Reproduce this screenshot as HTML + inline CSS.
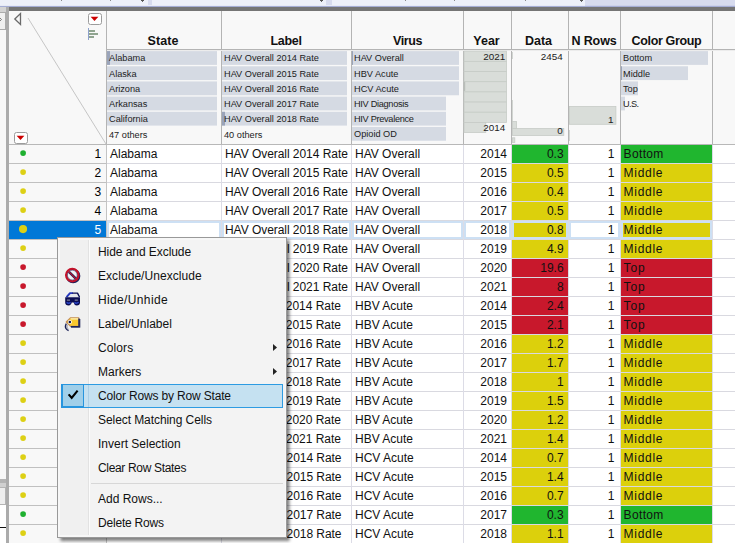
<!DOCTYPE html>
<html><head><meta charset="utf-8"><title>Data table</title>
<style>
html,body{margin:0;padding:0;}
body{width:735px;height:543px;overflow:hidden;position:relative;background:#fff;font-family:"Liberation Sans",sans-serif;font-size:12px;color:#111;}
div,span{position:absolute;box-sizing:border-box;white-space:nowrap;}
svg{position:absolute;overflow:visible;}
.c{height:19px;line-height:19px;font-size:12px;}
.r{text-align:right;}
.hl{font-size:9.2px;height:14px;line-height:14px;color:#1c1c1c;}
.hd{font-weight:bold;font-size:12.5px;height:16px;line-height:16px;text-align:center;}
.mi{left:40px;height:24px;line-height:24px;font-size:12px;color:#111;}
</style></head><body>

<div style="left:0;top:0;width:735px;height:6px;background:#e7eaf6"></div>
<div style="left:0;top:0;width:735px;height:5px;background:#edf0f9"></div>
<div style="left:148px;top:0;width:4px;height:5px;background:#d7dbee"></div>
<div style="left:326px;top:0;width:6px;height:5px;background:#d7dbee"></div>
<div style="left:585px;top:0;width:150px;height:5px;background:#d7dbee"></div>
<div style="left:585px;top:5px;width:150px;height:1px;background:#cdd2ea"></div>
<div style="left:141px;top:0;width:3px;height:1px;background:#555"></div>
<div style="left:142px;top:1px;width:1px;height:1px;background:#666"></div>
<div style="left:320px;top:0;width:3px;height:1px;background:#555"></div>
<div style="left:321px;top:1px;width:1px;height:1px;background:#666"></div>
<div style="left:580px;top:0;width:3px;height:1px;background:#555"></div>
<div style="left:581px;top:1px;width:1px;height:1px;background:#666"></div>
<div style="left:61px;top:0;width:1px;height:1px;background:#8a8a8a"></div>
<div style="left:110px;top:0;width:1px;height:1px;background:#8a8a8a"></div>
<div style="left:405px;top:0;width:1px;height:1px;background:#8a8a8a"></div>
<div style="left:454px;top:0;width:1px;height:1px;background:#8a8a8a"></div>
<div style="left:525px;top:0;width:1px;height:1px;background:#8a8a8a"></div>
<div style="left:0;top:6px;width:735px;height:1px;background:#a5add4"></div>
<div style="left:9px;top:7px;width:726px;height:4px;background:#757575"></div>
<div style="left:0;top:7px;width:6px;height:536px;background:#f7f7f7"></div>
<div style="left:0;top:7px;width:6px;height:5px;background:#d3d3d3"></div>
<div style="left:-3px;top:12px;width:9px;height:18px;background:#f0f0f0;border:1px solid #ababab"></div>
<div style="left:-5px;top:15.5px;width:7px;height:7px;border:1.4px solid #555;transform:rotate(45deg) scale(.7)"></div>
<div style="left:0;top:479px;width:6px;height:4px;background:#b4b4b4"></div>
<div style="left:0;top:483px;width:6px;height:4px;background:#d0d0d0"></div>
<div style="left:-3px;top:487px;width:9px;height:18px;background:#eeeeee;border:1px solid #b4b4b4"></div>
<div style="left:0;top:505px;width:6px;height:38px;background:#fff"></div>
<div style="left:0;top:527px;width:6px;height:1px;background:#111"></div>
<div style="left:6px;top:7px;width:3px;height:536px;background:#ababab"></div>
<div style="left:9px;top:11px;width:726px;height:133px;background:#f8f8f8"></div>
<div style="left:9px;top:145px;width:97px;height:399px;background:#f8f8f8"></div>
<div style="left:106px;top:11px;width:1px;height:133px;background:#b4b4b4"></div>
<div style="left:221px;top:11px;width:1px;height:133px;background:#b4b4b4"></div>
<div style="left:351px;top:11px;width:1px;height:133px;background:#b4b4b4"></div>
<div style="left:463px;top:11px;width:1px;height:133px;background:#b4b4b4"></div>
<div style="left:511px;top:11px;width:1px;height:133px;background:#b4b4b4"></div>
<div style="left:568px;top:11px;width:1px;height:133px;background:#b4b4b4"></div>
<div style="left:620px;top:11px;width:1px;height:133px;background:#b4b4b4"></div>
<div style="left:712px;top:11px;width:1px;height:133px;background:#b4b4b4"></div>
<div style="left:106px;top:49px;width:629px;height:1px;background:#b4b4b4"></div>
<div style="left:107px;top:50px;width:629px;height:1px;background:#ececec"></div>
<div style="left:9px;top:144px;width:726px;height:1px;background:#b8b8b8"></div>
<svg style="left:0;top:0" width="735" height="146" viewBox="0 0 735 146"><line x1="28" y1="18" x2="106" y2="144" stroke="#c6c6c6" stroke-width="1"/><path d="M20.5 13.5 L20.5 24.5 L14.8 19 Z" fill="none" stroke="#6a6a6a" stroke-width="1.3"/><rect x="88.5" y="13.5" width="13" height="11" rx="2" fill="#fff" stroke="#9c9c9c"/><path d="M90.6 16.8 L98.4 16.8 L94.5 21 Z" fill="#cc0000"/><rect x="14.5" y="132.5" width="13" height="11" rx="2" fill="#fff" stroke="#9c9c9c"/><path d="M16.6 135.8 L24.4 135.8 L20.5 140 Z" fill="#cc0000"/><rect x="88" y="28" width="1" height="12" fill="#8ea2cc"/><rect x="89" y="30" width="6" height="2" fill="#90a590"/><rect x="89" y="33" width="9" height="2" fill="#90a590"/><rect x="89" y="36" width="5" height="2" fill="#90a590"/><rect x="107" y="51.10" width="110" height="13.8" fill="#d5dae3"/><rect x="107" y="51.10" width="3" height="13.8" fill="#9aa4ba"/><rect x="107" y="66.27" width="110" height="13.8" fill="#d5dae3"/><rect x="107" y="81.44" width="110" height="13.8" fill="#d5dae3"/><rect x="107" y="96.61" width="110" height="13.8" fill="#d5dae3"/><rect x="107" y="111.78" width="110" height="13.8" fill="#d5dae3"/><rect x="222" y="51.10" width="125" height="13.8" fill="#d5dae3"/><rect x="222" y="66.27" width="125" height="13.8" fill="#d5dae3"/><rect x="222" y="81.44" width="125" height="13.8" fill="#d5dae3"/><rect x="222" y="96.61" width="125" height="13.8" fill="#d5dae3"/><rect x="222" y="111.78" width="125" height="13.8" fill="#d5dae3"/><rect x="222" y="111.78" width="3" height="13.8" fill="#9aa4ba"/><rect x="352" y="51.10" width="107" height="13.8" fill="#d5dae3"/><rect x="352" y="51.10" width="1" height="13.8" fill="#9aa4ba"/><rect x="352" y="66.27" width="107" height="13.8" fill="#d5dae3"/><rect x="352" y="81.44" width="107" height="13.8" fill="#d5dae3"/><rect x="352" y="96.61" width="94" height="13.8" fill="#d5dae3"/><rect x="352" y="111.78" width="94" height="13.8" fill="#d5dae3"/><rect x="352" y="126.95" width="94" height="13.8" fill="#d5dae3"/><rect x="621" y="51.10" width="87" height="13.8" fill="#d5dae3"/><rect x="621" y="66.27" width="67" height="13.8" fill="#d5dae3"/><rect x="621" y="66.27" width="1" height="13.8" fill="#9aa4ba"/><rect x="621" y="81.44" width="17" height="13.8" fill="#d5dae3"/><rect x="621" y="96.61" width="4" height="13.8" fill="#d5dae3"/><rect x="464" y="51.20" width="42.4" height="10.17" fill="#d9ddd9" stroke="#c6cbc6" stroke-width="0.8"/><rect x="464" y="61.37" width="42.4" height="10.17" fill="#d9ddd9" stroke="#c6cbc6" stroke-width="0.8"/><rect x="464" y="71.54" width="42.4" height="10.17" fill="#d9ddd9" stroke="#c6cbc6" stroke-width="0.8"/><rect x="464" y="81.71" width="42.4" height="10.17" fill="#d9ddd9" stroke="#c6cbc6" stroke-width="0.8"/><rect x="464" y="91.88" width="42.4" height="10.17" fill="#d9ddd9" stroke="#c6cbc6" stroke-width="0.8"/><rect x="464" y="102.05" width="42.4" height="10.17" fill="#d9ddd9" stroke="#c6cbc6" stroke-width="0.8"/><rect x="464" y="112.22" width="42.4" height="10.17" fill="#d9ddd9" stroke="#c6cbc6" stroke-width="0.8"/><rect x="464" y="122.39" width="21.8" height="10.17" fill="#d9ddd9" stroke="#c6cbc6" stroke-width="0.8"/><rect x="464" y="81.7" width="1.2" height="9.2" fill="#b9beb9"/><rect x="512.4" y="121.5" width="4" height="7" fill="#d9ddd9" stroke="#c6cbc6" stroke-width="0.8"/><rect x="512.4" y="128.5" width="51.4" height="7" fill="#d9ddd9" stroke="#c6cbc6" stroke-width="0.8"/><rect x="512.4" y="137.8" width="2.4" height="4.6" fill="#d9ddd9" stroke="#c6cbc6" stroke-width="0.8"/><rect x="512" y="52" width="1" height="7" fill="#d2d6d2"/><rect x="512" y="100" width="1" height="21" fill="#d2d6d2"/><rect x="569.6" y="106.5" width="46.3" height="17.8" fill="#d9ddd9" stroke="#c6cbc6" stroke-width="0.8"/><rect x="569" y="130" width="1" height="11" fill="#d2d6d2"/></svg>
<div class="hd" style="left:106px;top:33px;width:114px;letter-spacing:0.1px">State</div>
<div class="hd" style="left:221.5px;top:33px;width:129px;letter-spacing:-0.3px">Label</div>
<div class="hd" style="left:352px;top:33px;width:111px;letter-spacing:-0.4px">Virus</div>
<div class="hd" style="left:463px;top:33px;width:47px;letter-spacing:0px">Year</div>
<div class="hd" style="left:510.5px;top:33px;width:56px;letter-spacing:0px">Data</div>
<div class="hd" style="left:568.5px;top:33px;width:51px;letter-spacing:-0.1px">N Rows</div>
<div class="hd" style="left:621px;top:33px;width:91px;letter-spacing:-0.35px">Color Group</div>
<div class="hl" style="left:109px;top:51.3px">Alabama</div>
<div class="hl" style="left:109px;top:66.5px">Alaska</div>
<div class="hl" style="left:109px;top:81.6px">Arizona</div>
<div class="hl" style="left:109px;top:96.8px">Arkansas</div>
<div class="hl" style="left:109px;top:112.0px">California</div>
<div class="hl" style="left:109px;top:127.8px">47 others</div>
<div class="hl" style="left:224px;top:51.3px">HAV Overall 2014 Rate</div>
<div class="hl" style="left:224px;top:66.5px">HAV Overall 2015 Rate</div>
<div class="hl" style="left:224px;top:81.6px">HAV Overall 2016 Rate</div>
<div class="hl" style="left:224px;top:96.8px">HAV Overall 2017 Rate</div>
<div class="hl" style="left:224px;top:112.0px">HAV Overall 2018 Rate</div>
<div class="hl" style="left:224px;top:127.8px">40 others</div>
<div class="hl" style="left:354px;top:51.3px">HAV Overall</div>
<div class="hl" style="left:354px;top:66.5px">HBV Acute</div>
<div class="hl" style="left:354px;top:81.6px">HCV Acute</div>
<div class="hl" style="left:354px;top:96.8px;letter-spacing:-0.3px">HIV Diagnosis</div>
<div class="hl" style="left:354px;top:112.0px;letter-spacing:-0.3px">HIV Prevalence</div>
<div class="hl" style="left:354px;top:127.1px">Opioid OD</div>
<div class="hl" style="left:623px;top:51.3px">Bottom</div>
<div class="hl" style="left:623px;top:66.5px">Middle</div>
<div class="hl" style="left:623px;top:81.6px">Top</div>
<div class="hl" style="left:623px;top:96.8px;letter-spacing:-0.6px">U.S.</div>
<div class="hl r" style="left:464px;top:50px;width:41.2px;font-size:9.9px">2021</div>
<div class="hl r" style="left:464px;top:120.7px;width:41.2px;font-size:9.9px">2014</div>
<div class="hl r" style="left:512px;top:50px;width:50.7px;font-size:9.9px">2454</div>
<div class="hl r" style="left:512px;top:123.8px;width:50.7px;font-size:9.9px">0</div>
<div class="hl r" style="left:570px;top:112.8px;width:43.6px;font-size:9.9px">1</div>
<div style="left:512px;top:145px;width:56px;height:18px;background:#20b62f"></div>
<div style="left:621px;top:145px;width:91px;height:18px;background:#20b62f"></div>
<div class="c r" style="left:40px;top:145px;width:61.3px;color:#000">1</div>
<div class="c" style="left:110px;top:145px">Alabama</div>
<div class="c" style="left:225px;top:145px;letter-spacing:-0.05px">HAV Overall 2014 Rate</div>
<div class="c" style="left:355px;top:145px">HAV Overall</div>
<div class="c r" style="left:464px;top:145px;width:43px">2014</div>
<div class="c r" style="left:512px;top:145px;width:51.6px">0.3</div>
<div class="c r" style="left:570px;top:145px;width:44.5px">1</div>
<div class="c" style="left:623.6px;top:145px;letter-spacing:0.35px">Bottom</div>
<div style="left:512px;top:164px;width:56px;height:18px;background:#dcd00c"></div>
<div style="left:621px;top:164px;width:91px;height:18px;background:#dcd00c"></div>
<div class="c r" style="left:40px;top:164px;width:61.3px;color:#000">2</div>
<div class="c" style="left:110px;top:164px">Alabama</div>
<div class="c" style="left:225px;top:164px;letter-spacing:-0.05px">HAV Overall 2015 Rate</div>
<div class="c" style="left:355px;top:164px">HAV Overall</div>
<div class="c r" style="left:464px;top:164px;width:43px">2015</div>
<div class="c r" style="left:512px;top:164px;width:51.6px">0.5</div>
<div class="c r" style="left:570px;top:164px;width:44.5px">1</div>
<div class="c" style="left:623.6px;top:164px;letter-spacing:0.7px">Middle</div>
<div style="left:512px;top:183px;width:56px;height:18px;background:#dcd00c"></div>
<div style="left:621px;top:183px;width:91px;height:18px;background:#dcd00c"></div>
<div class="c r" style="left:40px;top:183px;width:61.3px;color:#000">3</div>
<div class="c" style="left:110px;top:183px">Alabama</div>
<div class="c" style="left:225px;top:183px;letter-spacing:-0.05px">HAV Overall 2016 Rate</div>
<div class="c" style="left:355px;top:183px">HAV Overall</div>
<div class="c r" style="left:464px;top:183px;width:43px">2016</div>
<div class="c r" style="left:512px;top:183px;width:51.6px">0.4</div>
<div class="c r" style="left:570px;top:183px;width:44.5px">1</div>
<div class="c" style="left:623.6px;top:183px;letter-spacing:0.7px">Middle</div>
<div style="left:512px;top:202px;width:56px;height:18px;background:#dcd00c"></div>
<div style="left:621px;top:202px;width:91px;height:18px;background:#dcd00c"></div>
<div class="c r" style="left:40px;top:202px;width:61.3px;color:#000">4</div>
<div class="c" style="left:110px;top:202px">Alabama</div>
<div class="c" style="left:225px;top:202px;letter-spacing:-0.05px">HAV Overall 2017 Rate</div>
<div class="c" style="left:355px;top:202px">HAV Overall</div>
<div class="c r" style="left:464px;top:202px;width:43px">2017</div>
<div class="c r" style="left:512px;top:202px;width:51.6px">0.5</div>
<div class="c r" style="left:570px;top:202px;width:44.5px">1</div>
<div class="c" style="left:623.6px;top:202px;letter-spacing:0.7px">Middle</div>
<div style="left:512px;top:221px;width:56px;height:18px;background:#dcd00c"></div>
<div style="left:621px;top:221px;width:91px;height:18px;background:#dcd00c"></div>
<div style="left:9px;top:221px;width:97px;height:18px;background:#0078d7"></div>
<div class="c r" style="left:40px;top:221px;width:61.3px;color:#fff">5</div>
<div class="c" style="left:110px;top:221px">Alabama</div>
<div class="c" style="left:225px;top:221px;letter-spacing:-0.05px">HAV Overall 2018 Rate</div>
<div class="c" style="left:355px;top:221px">HAV Overall</div>
<div class="c r" style="left:464px;top:221px;width:43px">2018</div>
<div class="c r" style="left:512px;top:221px;width:51.6px">0.8</div>
<div class="c r" style="left:570px;top:221px;width:44.5px">1</div>
<div class="c" style="left:623.6px;top:221px;letter-spacing:0.7px">Middle</div>
<div style="left:512px;top:240px;width:56px;height:18px;background:#dcd00c"></div>
<div style="left:621px;top:240px;width:91px;height:18px;background:#dcd00c"></div>
<div class="c r" style="left:40px;top:240px;width:61.3px;color:#000">6</div>
<div class="c" style="left:110px;top:240px">Alabama</div>
<div class="c" style="left:225px;top:240px;letter-spacing:-0.05px">HAV Overall 2019 Rate</div>
<div class="c" style="left:355px;top:240px">HAV Overall</div>
<div class="c r" style="left:464px;top:240px;width:43px">2019</div>
<div class="c r" style="left:512px;top:240px;width:51.6px">4.9</div>
<div class="c r" style="left:570px;top:240px;width:44.5px">1</div>
<div class="c" style="left:623.6px;top:240px;letter-spacing:0.7px">Middle</div>
<div style="left:512px;top:259px;width:56px;height:18px;background:#c8182c"></div>
<div style="left:621px;top:259px;width:91px;height:18px;background:#c8182c"></div>
<div class="c r" style="left:40px;top:259px;width:61.3px;color:#000">7</div>
<div class="c" style="left:110px;top:259px">Alabama</div>
<div class="c" style="left:225px;top:259px;letter-spacing:-0.05px">HAV Overall 2020 Rate</div>
<div class="c" style="left:355px;top:259px">HAV Overall</div>
<div class="c r" style="left:464px;top:259px;width:43px">2020</div>
<div class="c r" style="left:512px;top:259px;width:51.6px">19.6</div>
<div class="c r" style="left:570px;top:259px;width:44.5px">1</div>
<div class="c" style="left:623.6px;top:259px;letter-spacing:0.9px">Top</div>
<div style="left:512px;top:278px;width:56px;height:18px;background:#c8182c"></div>
<div style="left:621px;top:278px;width:91px;height:18px;background:#c8182c"></div>
<div class="c r" style="left:40px;top:278px;width:61.3px;color:#000">8</div>
<div class="c" style="left:110px;top:278px">Alabama</div>
<div class="c" style="left:225px;top:278px;letter-spacing:-0.05px">HAV Overall 2021 Rate</div>
<div class="c" style="left:355px;top:278px">HAV Overall</div>
<div class="c r" style="left:464px;top:278px;width:43px">2021</div>
<div class="c r" style="left:512px;top:278px;width:51.6px">8</div>
<div class="c r" style="left:570px;top:278px;width:44.5px">1</div>
<div class="c" style="left:623.6px;top:278px;letter-spacing:0.9px">Top</div>
<div style="left:512px;top:297px;width:56px;height:18px;background:#c8182c"></div>
<div style="left:621px;top:297px;width:91px;height:18px;background:#c8182c"></div>
<div class="c r" style="left:40px;top:297px;width:61.3px;color:#000">9</div>
<div class="c" style="left:110px;top:297px">Alabama</div>
<div class="c" style="left:225px;top:297px;letter-spacing:-0.05px">HBV Acute 2014 Rate</div>
<div class="c" style="left:355px;top:297px">HBV Acute</div>
<div class="c r" style="left:464px;top:297px;width:43px">2014</div>
<div class="c r" style="left:512px;top:297px;width:51.6px">2.4</div>
<div class="c r" style="left:570px;top:297px;width:44.5px">1</div>
<div class="c" style="left:623.6px;top:297px;letter-spacing:0.9px">Top</div>
<div style="left:512px;top:316px;width:56px;height:18px;background:#c8182c"></div>
<div style="left:621px;top:316px;width:91px;height:18px;background:#c8182c"></div>
<div class="c r" style="left:40px;top:316px;width:61.3px;color:#000">10</div>
<div class="c" style="left:110px;top:316px">Alabama</div>
<div class="c" style="left:225px;top:316px;letter-spacing:-0.05px">HBV Acute 2015 Rate</div>
<div class="c" style="left:355px;top:316px">HBV Acute</div>
<div class="c r" style="left:464px;top:316px;width:43px">2015</div>
<div class="c r" style="left:512px;top:316px;width:51.6px">2.1</div>
<div class="c r" style="left:570px;top:316px;width:44.5px">1</div>
<div class="c" style="left:623.6px;top:316px;letter-spacing:0.9px">Top</div>
<div style="left:512px;top:335px;width:56px;height:18px;background:#dcd00c"></div>
<div style="left:621px;top:335px;width:91px;height:18px;background:#dcd00c"></div>
<div class="c r" style="left:40px;top:335px;width:61.3px;color:#000">11</div>
<div class="c" style="left:110px;top:335px">Alabama</div>
<div class="c" style="left:225px;top:335px;letter-spacing:-0.05px">HBV Acute 2016 Rate</div>
<div class="c" style="left:355px;top:335px">HBV Acute</div>
<div class="c r" style="left:464px;top:335px;width:43px">2016</div>
<div class="c r" style="left:512px;top:335px;width:51.6px">1.2</div>
<div class="c r" style="left:570px;top:335px;width:44.5px">1</div>
<div class="c" style="left:623.6px;top:335px;letter-spacing:0.7px">Middle</div>
<div style="left:512px;top:354px;width:56px;height:18px;background:#dcd00c"></div>
<div style="left:621px;top:354px;width:91px;height:18px;background:#dcd00c"></div>
<div class="c r" style="left:40px;top:354px;width:61.3px;color:#000">12</div>
<div class="c" style="left:110px;top:354px">Alabama</div>
<div class="c" style="left:225px;top:354px;letter-spacing:-0.05px">HBV Acute 2017 Rate</div>
<div class="c" style="left:355px;top:354px">HBV Acute</div>
<div class="c r" style="left:464px;top:354px;width:43px">2017</div>
<div class="c r" style="left:512px;top:354px;width:51.6px">1.7</div>
<div class="c r" style="left:570px;top:354px;width:44.5px">1</div>
<div class="c" style="left:623.6px;top:354px;letter-spacing:0.7px">Middle</div>
<div style="left:512px;top:373px;width:56px;height:18px;background:#dcd00c"></div>
<div style="left:621px;top:373px;width:91px;height:18px;background:#dcd00c"></div>
<div class="c r" style="left:40px;top:373px;width:61.3px;color:#000">13</div>
<div class="c" style="left:110px;top:373px">Alabama</div>
<div class="c" style="left:225px;top:373px;letter-spacing:-0.05px">HBV Acute 2018 Rate</div>
<div class="c" style="left:355px;top:373px">HBV Acute</div>
<div class="c r" style="left:464px;top:373px;width:43px">2018</div>
<div class="c r" style="left:512px;top:373px;width:51.6px">1</div>
<div class="c r" style="left:570px;top:373px;width:44.5px">1</div>
<div class="c" style="left:623.6px;top:373px;letter-spacing:0.7px">Middle</div>
<div style="left:512px;top:392px;width:56px;height:18px;background:#dcd00c"></div>
<div style="left:621px;top:392px;width:91px;height:18px;background:#dcd00c"></div>
<div class="c r" style="left:40px;top:392px;width:61.3px;color:#000">14</div>
<div class="c" style="left:110px;top:392px">Alabama</div>
<div class="c" style="left:225px;top:392px;letter-spacing:-0.05px">HBV Acute 2019 Rate</div>
<div class="c" style="left:355px;top:392px">HBV Acute</div>
<div class="c r" style="left:464px;top:392px;width:43px">2019</div>
<div class="c r" style="left:512px;top:392px;width:51.6px">1.5</div>
<div class="c r" style="left:570px;top:392px;width:44.5px">1</div>
<div class="c" style="left:623.6px;top:392px;letter-spacing:0.7px">Middle</div>
<div style="left:512px;top:411px;width:56px;height:18px;background:#dcd00c"></div>
<div style="left:621px;top:411px;width:91px;height:18px;background:#dcd00c"></div>
<div class="c r" style="left:40px;top:411px;width:61.3px;color:#000">15</div>
<div class="c" style="left:110px;top:411px">Alabama</div>
<div class="c" style="left:225px;top:411px;letter-spacing:-0.05px">HBV Acute 2020 Rate</div>
<div class="c" style="left:355px;top:411px">HBV Acute</div>
<div class="c r" style="left:464px;top:411px;width:43px">2020</div>
<div class="c r" style="left:512px;top:411px;width:51.6px">1.2</div>
<div class="c r" style="left:570px;top:411px;width:44.5px">1</div>
<div class="c" style="left:623.6px;top:411px;letter-spacing:0.7px">Middle</div>
<div style="left:512px;top:430px;width:56px;height:18px;background:#dcd00c"></div>
<div style="left:621px;top:430px;width:91px;height:18px;background:#dcd00c"></div>
<div class="c r" style="left:40px;top:430px;width:61.3px;color:#000">16</div>
<div class="c" style="left:110px;top:430px">Alabama</div>
<div class="c" style="left:225px;top:430px;letter-spacing:-0.05px">HBV Acute 2021 Rate</div>
<div class="c" style="left:355px;top:430px">HBV Acute</div>
<div class="c r" style="left:464px;top:430px;width:43px">2021</div>
<div class="c r" style="left:512px;top:430px;width:51.6px">1.4</div>
<div class="c r" style="left:570px;top:430px;width:44.5px">1</div>
<div class="c" style="left:623.6px;top:430px;letter-spacing:0.7px">Middle</div>
<div style="left:512px;top:449px;width:56px;height:18px;background:#dcd00c"></div>
<div style="left:621px;top:449px;width:91px;height:18px;background:#dcd00c"></div>
<div class="c r" style="left:40px;top:449px;width:61.3px;color:#000">17</div>
<div class="c" style="left:110px;top:449px">Alabama</div>
<div class="c" style="left:225px;top:449px;letter-spacing:-0.05px">HCV Acute 2014 Rate</div>
<div class="c" style="left:355px;top:449px">HCV Acute</div>
<div class="c r" style="left:464px;top:449px;width:43px">2014</div>
<div class="c r" style="left:512px;top:449px;width:51.6px">0.7</div>
<div class="c r" style="left:570px;top:449px;width:44.5px">1</div>
<div class="c" style="left:623.6px;top:449px;letter-spacing:0.7px">Middle</div>
<div style="left:512px;top:468px;width:56px;height:18px;background:#dcd00c"></div>
<div style="left:621px;top:468px;width:91px;height:18px;background:#dcd00c"></div>
<div class="c r" style="left:40px;top:468px;width:61.3px;color:#000">18</div>
<div class="c" style="left:110px;top:468px">Alabama</div>
<div class="c" style="left:225px;top:468px;letter-spacing:-0.05px">HCV Acute 2015 Rate</div>
<div class="c" style="left:355px;top:468px">HCV Acute</div>
<div class="c r" style="left:464px;top:468px;width:43px">2015</div>
<div class="c r" style="left:512px;top:468px;width:51.6px">1.4</div>
<div class="c r" style="left:570px;top:468px;width:44.5px">1</div>
<div class="c" style="left:623.6px;top:468px;letter-spacing:0.7px">Middle</div>
<div style="left:512px;top:487px;width:56px;height:18px;background:#dcd00c"></div>
<div style="left:621px;top:487px;width:91px;height:18px;background:#dcd00c"></div>
<div class="c r" style="left:40px;top:487px;width:61.3px;color:#000">19</div>
<div class="c" style="left:110px;top:487px">Alabama</div>
<div class="c" style="left:225px;top:487px;letter-spacing:-0.05px">HCV Acute 2016 Rate</div>
<div class="c" style="left:355px;top:487px">HCV Acute</div>
<div class="c r" style="left:464px;top:487px;width:43px">2016</div>
<div class="c r" style="left:512px;top:487px;width:51.6px">0.7</div>
<div class="c r" style="left:570px;top:487px;width:44.5px">1</div>
<div class="c" style="left:623.6px;top:487px;letter-spacing:0.7px">Middle</div>
<div style="left:512px;top:506px;width:56px;height:18px;background:#20b62f"></div>
<div style="left:621px;top:506px;width:91px;height:18px;background:#20b62f"></div>
<div class="c r" style="left:40px;top:506px;width:61.3px;color:#000">20</div>
<div class="c" style="left:110px;top:506px">Alabama</div>
<div class="c" style="left:225px;top:506px;letter-spacing:-0.05px">HCV Acute 2017 Rate</div>
<div class="c" style="left:355px;top:506px">HCV Acute</div>
<div class="c r" style="left:464px;top:506px;width:43px">2017</div>
<div class="c r" style="left:512px;top:506px;width:51.6px">0.3</div>
<div class="c r" style="left:570px;top:506px;width:44.5px">1</div>
<div class="c" style="left:623.6px;top:506px;letter-spacing:0.35px">Bottom</div>
<div style="left:512px;top:525px;width:56px;height:18px;background:#dcd00c"></div>
<div style="left:621px;top:525px;width:91px;height:18px;background:#dcd00c"></div>
<div class="c r" style="left:40px;top:525px;width:61.3px;color:#000">21</div>
<div class="c" style="left:110px;top:525px">Alabama</div>
<div class="c" style="left:225px;top:525px;letter-spacing:-0.05px">HCV Acute 2018 Rate</div>
<div class="c" style="left:355px;top:525px">HCV Acute</div>
<div class="c r" style="left:464px;top:525px;width:43px">2018</div>
<div class="c r" style="left:512px;top:525px;width:51.6px">1.1</div>
<div class="c r" style="left:570px;top:525px;width:44.5px">1</div>
<div class="c" style="left:623.6px;top:525px;letter-spacing:0.7px">Middle</div>
<svg style="left:0;top:0" width="60" height="543" viewBox="0 0 60 543"><circle cx="23.1" cy="153.1" r="2.85" fill="#1fb030"/><circle cx="23.1" cy="172.1" r="2.85" fill="#ddd015"/><circle cx="23.1" cy="191.1" r="2.85" fill="#ddd015"/><circle cx="23.1" cy="210.1" r="2.85" fill="#ddd015"/><circle cx="23.05" cy="229.1" r="4.05" fill="#ddd015"/><circle cx="23.1" cy="248.1" r="2.85" fill="#ddd015"/><circle cx="23.1" cy="267.1" r="2.85" fill="#c8182c"/><circle cx="23.1" cy="286.1" r="2.85" fill="#c8182c"/><circle cx="23.1" cy="305.1" r="2.85" fill="#c8182c"/><circle cx="23.1" cy="324.1" r="2.85" fill="#c8182c"/><circle cx="23.1" cy="343.1" r="2.85" fill="#ddd015"/><circle cx="23.1" cy="362.1" r="2.85" fill="#ddd015"/><circle cx="23.1" cy="381.1" r="2.85" fill="#ddd015"/><circle cx="23.1" cy="400.1" r="2.85" fill="#ddd015"/><circle cx="23.1" cy="419.1" r="2.85" fill="#ddd015"/><circle cx="23.1" cy="438.1" r="2.85" fill="#ddd015"/><circle cx="23.1" cy="457.1" r="2.85" fill="#ddd015"/><circle cx="23.1" cy="476.1" r="2.85" fill="#ddd015"/><circle cx="23.1" cy="495.1" r="2.85" fill="#ddd015"/><circle cx="23.1" cy="514.1" r="2.85" fill="#1fb030"/><circle cx="23.1" cy="533.1" r="2.85" fill="#ddd015"/></svg>
<div style="left:9px;top:163px;width:97px;height:1px;background:#c0c0c0"></div>
<div style="left:106px;top:163px;width:629px;height:1px;background:#d9d9e0"></div>
<div style="left:9px;top:182px;width:97px;height:1px;background:#c0c0c0"></div>
<div style="left:106px;top:182px;width:629px;height:1px;background:#d9d9e0"></div>
<div style="left:9px;top:201px;width:97px;height:1px;background:#c0c0c0"></div>
<div style="left:106px;top:201px;width:629px;height:1px;background:#d9d9e0"></div>
<div style="left:9px;top:220px;width:97px;height:1px;background:#c0c0c0"></div>
<div style="left:106px;top:220px;width:629px;height:1px;background:#d9d9e0"></div>
<div style="left:9px;top:239px;width:97px;height:1px;background:#c0c0c0"></div>
<div style="left:106px;top:239px;width:629px;height:1px;background:#d9d9e0"></div>
<div style="left:9px;top:258px;width:97px;height:1px;background:#c0c0c0"></div>
<div style="left:106px;top:258px;width:629px;height:1px;background:#d9d9e0"></div>
<div style="left:9px;top:277px;width:97px;height:1px;background:#c0c0c0"></div>
<div style="left:106px;top:277px;width:629px;height:1px;background:#d9d9e0"></div>
<div style="left:9px;top:296px;width:97px;height:1px;background:#c0c0c0"></div>
<div style="left:106px;top:296px;width:629px;height:1px;background:#d9d9e0"></div>
<div style="left:9px;top:315px;width:97px;height:1px;background:#c0c0c0"></div>
<div style="left:106px;top:315px;width:629px;height:1px;background:#d9d9e0"></div>
<div style="left:9px;top:334px;width:97px;height:1px;background:#c0c0c0"></div>
<div style="left:106px;top:334px;width:629px;height:1px;background:#d9d9e0"></div>
<div style="left:9px;top:353px;width:97px;height:1px;background:#c0c0c0"></div>
<div style="left:106px;top:353px;width:629px;height:1px;background:#d9d9e0"></div>
<div style="left:9px;top:372px;width:97px;height:1px;background:#c0c0c0"></div>
<div style="left:106px;top:372px;width:629px;height:1px;background:#d9d9e0"></div>
<div style="left:9px;top:391px;width:97px;height:1px;background:#c0c0c0"></div>
<div style="left:106px;top:391px;width:629px;height:1px;background:#d9d9e0"></div>
<div style="left:9px;top:410px;width:97px;height:1px;background:#c0c0c0"></div>
<div style="left:106px;top:410px;width:629px;height:1px;background:#d9d9e0"></div>
<div style="left:9px;top:429px;width:97px;height:1px;background:#c0c0c0"></div>
<div style="left:106px;top:429px;width:629px;height:1px;background:#d9d9e0"></div>
<div style="left:9px;top:448px;width:97px;height:1px;background:#c0c0c0"></div>
<div style="left:106px;top:448px;width:629px;height:1px;background:#d9d9e0"></div>
<div style="left:9px;top:467px;width:97px;height:1px;background:#c0c0c0"></div>
<div style="left:106px;top:467px;width:629px;height:1px;background:#d9d9e0"></div>
<div style="left:9px;top:486px;width:97px;height:1px;background:#c0c0c0"></div>
<div style="left:106px;top:486px;width:629px;height:1px;background:#d9d9e0"></div>
<div style="left:9px;top:505px;width:97px;height:1px;background:#c0c0c0"></div>
<div style="left:106px;top:505px;width:629px;height:1px;background:#d9d9e0"></div>
<div style="left:9px;top:524px;width:97px;height:1px;background:#c0c0c0"></div>
<div style="left:106px;top:524px;width:629px;height:1px;background:#d9d9e0"></div>
<div style="left:9px;top:543px;width:97px;height:1px;background:#c0c0c0"></div>
<div style="left:106px;top:543px;width:629px;height:1px;background:#d9d9e0"></div>
<div style="left:106px;top:145px;width:1px;height:399px;background:#c4c4c4"></div>
<div style="left:221px;top:145px;width:1px;height:399px;background:#dcdce6"></div>
<div style="left:351px;top:145px;width:1px;height:399px;background:#dcdce6"></div>
<div style="left:463px;top:145px;width:1px;height:399px;background:#dcdce6"></div>
<div style="left:511px;top:145px;width:1px;height:399px;background:#dcdce6"></div>
<div style="left:568px;top:145px;width:1px;height:399px;background:#dcdce6"></div>
<div style="left:620px;top:145px;width:1px;height:399px;background:#dcdce6"></div>
<div style="left:712px;top:145px;width:1px;height:399px;background:#dcdce6"></div>
<div style="left:107px;top:221px;width:114px;height:18px;border:2px solid #cde0f4"></div>
<div style="left:222px;top:221px;width:129px;height:18px;border:2px solid #cde0f4"></div>
<div style="left:352px;top:221px;width:111px;height:18px;border:2px solid #cde0f4"></div>
<div style="left:464px;top:221px;width:47px;height:18px;border:2px solid #cde0f4"></div>
<div style="left:512px;top:221px;width:56px;height:18px;border:2px solid #cde0f4"></div>
<div style="left:569px;top:221px;width:51px;height:18px;border:2px solid #cde0f4"></div>
<div style="left:621px;top:221px;width:91px;height:18px;border:2px solid #cde0f4"></div>
<div style="left:57px;top:237px;width:230px;height:301px;background:#f7f7f7;border:1px solid #999;box-shadow:2.5px 3px 3px rgba(0,0,0,.5)"></div>
<div style="left:60px;top:240px;width:225px;height:295px;background:#f3f3f3"></div>
<div style="left:60px;top:240px;width:28px;height:295px;background:#f0f0f0"></div>
<div style="left:88px;top:240px;width:1px;height:295px;background:#e2e2e2"></div>
<div style="left:89px;top:240px;width:1px;height:295px;background:#fbfbfb"></div>
<div style="left:61px;top:384px;width:222px;height:24px;background:#c5e1f1;border:1px solid #2d9be2"></div>
<div style="left:61px;top:384px;width:23px;height:24px;background:#a0cfe9;border:2px solid #2795de;border-right-width:1px;border-top-width:1.5px"></div>
<div style="left:88px;top:385px;width:1px;height:22px;background:rgba(160,200,225,.7)"></div>
<svg style="left:0;top:0" width="735" height="543" viewBox="0 0 735 543"><path d="M68.6 394.4 L71.7 397.8 L77.6 390.6" fill="none" stroke="#000" stroke-width="2.1"/><path d="M273 344 L277 347.5 L273 351 Z" fill="#222"/><path d="M273 368 L277 371.5 L273 375 Z" fill="#222"/><circle cx="73.1" cy="276" r="6.3" fill="none" stroke="#1a1f5a" stroke-width="1.9"/><circle cx="72.3" cy="275.1" r="6.2" fill="#f2f2f5" stroke="#c4122a" stroke-width="2.3"/><circle cx="72.3" cy="275.1" r="4.9" fill="none" stroke="#1a1f5a" stroke-width="0.7" opacity=".75"/><line x1="69" y1="271.8" x2="75.6" y2="278.4" stroke="#1a1f5a" stroke-width="2.6"/><line x1="68.6" y1="271.4" x2="76" y2="278.8" stroke="#c4122a" stroke-width="1.1"/><path d="M66.7 297 L70 293.1 L77.5 293.1 L79.4 297 Z" fill="#e4e5ea"/><path d="M66.5 297.2 L70 293.1 L73 293.1" fill="none" stroke="#2435bb" stroke-width="1.9" stroke-linejoin="round"/><path d="M72.5 293.1 L77.5 293.1 L79.5 297" fill="none" stroke="#0b0c52" stroke-width="1.4" stroke-linejoin="round"/><path d="M65.2 297.3 L80 297.3 L80 302.4 Q80 305.4 76.6 305.4 Q74.2 305.4 73.6 302.6 L71.7 302.6 Q71.2 305.4 68.6 305.4 Q65.2 305.4 65.2 302.4 Z" fill="#0b0c52"/><rect x="66.9" y="299.4" width="3.1" height="1.5" fill="#6a6c8c"/><rect x="74.7" y="299.4" width="3.1" height="1.5" fill="#6a6c8c"/><path d="M66.6 302.2 Q68.5 304 70.6 302.4" fill="none" stroke="#2a45c8" stroke-width="1.5"/><path d="M74.4 302.4 Q76.5 304 78.6 302.2" fill="none" stroke="#2a45c8" stroke-width="1.5"/><path d="M71 319 L80.3 319 L80.3 327.6 L71 327.6 Z" fill="#1b2258"/><path d="M70.3 317.8 L78.8 317.8 L78.8 326.2 L70.3 326.2 L66.2 322 Z" fill="#f9c82e" stroke="#c39262" stroke-width="1.1" stroke-linejoin="round"/><path d="M70.6 318.9 L78.2 318.9" stroke="#fff1b8" stroke-width="1.3"/><path d="M79 318.6 L79 326.6 L70.8 326.6" fill="none" stroke="#1b2258" stroke-width="1.3"/><circle cx="69.9" cy="322" r="2" fill="#fff"/><circle cx="69.8" cy="322" r="1.25" fill="#0a0c44"/><path d="M66.3 323.6 Q64.6 326.8 66 328.6 Q67 330 68.6 330.6" fill="none" stroke="#1b2258" stroke-width="1.3"/><path d="M67.3 324.6 Q66.3 327 68.3 329.6" fill="none" stroke="#9a9aa6" stroke-width="0.9"/></svg>
<div class="mi" style="left:98px;top:240px;letter-spacing:-0.06px">Hide and Exclude</div>
<div class="mi" style="left:98px;top:264px;letter-spacing:0.06px">Exclude/Unexclude</div>
<div class="mi" style="left:98px;top:288px;letter-spacing:0.36px">Hide/Unhide</div>
<div class="mi" style="left:98px;top:312px;letter-spacing:0.05px">Label/Unlabel</div>
<div class="mi" style="left:98px;top:336px;letter-spacing:0.1px">Colors</div>
<div class="mi" style="left:98px;top:360px;letter-spacing:0px">Markers</div>
<div class="mi" style="left:98px;top:384px;letter-spacing:-0.17px">Color Rows by Row State</div>
<div class="mi" style="left:98px;top:408px;letter-spacing:-0.07px">Select Matching Cells</div>
<div class="mi" style="left:98px;top:432px;letter-spacing:0px">Invert Selection</div>
<div class="mi" style="left:98px;top:456px;letter-spacing:-0.33px">Clear Row States</div>
<div class="mi" style="left:98px;top:487px;letter-spacing:0px">Add Rows...</div>
<div class="mi" style="left:98px;top:511px;letter-spacing:-0.2px">Delete Rows</div>
<div style="left:91px;top:483px;width:192px;height:1px;background:#d7d7d7"></div>
</body></html>
